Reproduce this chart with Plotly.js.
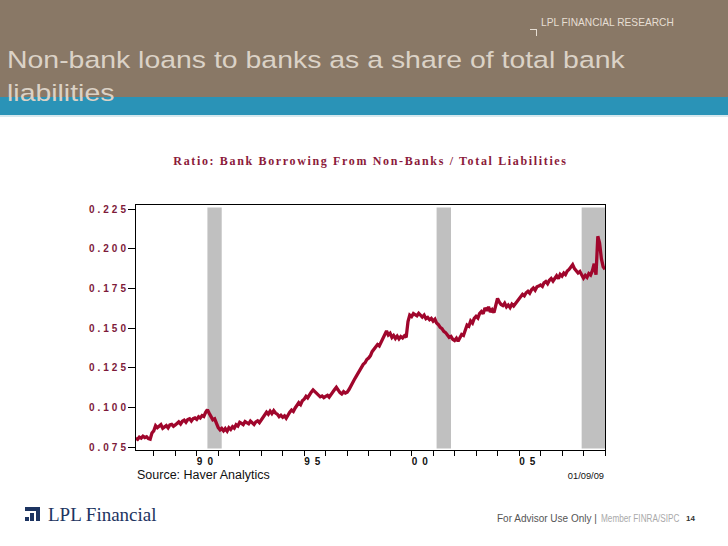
<!DOCTYPE html>
<html>
<head>
<meta charset="utf-8">
<script src="https://cdn.plot.ly/plotly-3.0.1.min.js"></script>
<style>
  html, body { margin:0; padding:0; width:728px; height:546px; overflow:hidden; background:#fff; font-family:"Liberation Sans", Arial, sans-serif; }
  #chart { position:absolute; left:0; top:0; width:728px; height:546px; z-index:1; }
  .abs { position:absolute; white-space:nowrap; }
  #hdr { left:0; top:0; width:728px; height:97px; background:#897866; z-index:2; }
  #teal { left:0; top:97px; width:728px; height:18px; background:#2a93b7; z-index:2; }
  #thin { left:0; top:115px; width:728px; height:2px; background:#d6e8ee; z-index:2; }
  #title { left:7px; top:43px; font-size:24.5px; line-height:33px; color:#dbd2c6; transform:scaleX(1.16); transform-origin:left top; z-index:3; }
  #research { left:541px; top:16px; font-size:10.5px; color:#e6ded3; transform:scaleX(0.97); transform-origin:left top; z-index:3; }
  #bracket { left:530px; top:29px; width:6px; height:6px; border-top:1.5px solid #e6ded3; border-right:1.5px solid #e6ded3; z-index:3; }
  #source { left:137px; top:468px; font-size:12.5px; color:#111; z-index:3; }
  #date { left:520px; width:84px; text-align:right; top:471px; font-size:9.3px; color:#111; z-index:3; }
  #logotext { left:48px; top:504px; font-family:"Liberation Serif","Times New Roman",serif; font-size:19px; color:#1d3461; z-index:3; }
  .lg { position:absolute; background:#1d3461; z-index:3; }
  #advisor { left:497px; top:513px; font-size:10px; color:#555; z-index:3; }
  #member { left:601px; top:513px; font-size:10px; color:#aaa; transform:scaleX(0.82); transform-origin:left top; z-index:3; }
  #page { left:686px; top:514px; font-size:8px; font-weight:bold; color:#333; z-index:3; }
  #chart .ytick text, #chart .y2tick text { letter-spacing:3px; }
  #chart .xtick text { letter-spacing:5px; }
  #chart .gtitle { letter-spacing:1.65px; }
</style>
</head>
<body>
<div id="chart"></div>
<div id="hdr" class="abs"></div>
<div id="teal" class="abs"></div>
<div id="thin" class="abs"></div>
<div id="title" class="abs">Non-bank loans to banks as a share of total bank<br>liabilities</div>
<div id="research" class="abs">LPL FINANCIAL RESEARCH</div>
<div id="bracket" class="abs"></div>
<div id="source" class="abs">Source: Haver Analytics</div>
<div id="date" class="abs">01/09/09</div>
<div class="lg" style="left:25px;top:507px;width:15px;height:4px;"></div>
<div class="lg" style="left:36px;top:507px;width:4px;height:14px;"></div>
<div class="lg" style="left:30px;top:513px;width:4px;height:8px;"></div>
<div class="lg" style="left:25px;top:517px;width:3.5px;height:4px;"></div>
<div id="logotext" class="abs">LPL Financial</div>
<div id="advisor" class="abs">For Advisor Use Only |</div>
<div id="member" class="abs">Member FINRA/SIPC</div>
<div id="page" class="abs">14</div>
<script>
// ---- Data (monthly, starting March 1987) ----
const startYear = 1987;
const startMonth = 3;
const ratio = [
  // 1987 Mar-Dec
  0.0805, 0.0798, 0.0812, 0.0806, 0.0818, 0.0809, 0.0815, 0.0803, 0.0799, 0.0838,
  // 1988
  0.0852, 0.0884, 0.0872, 0.0879, 0.0891, 0.0868, 0.0877, 0.0885, 0.0871, 0.0889, 0.0893, 0.0881,
  // 1989
  0.0889, 0.0897, 0.0908, 0.0895, 0.0912, 0.0919, 0.0906, 0.0923, 0.0928, 0.0914, 0.0929, 0.0933,
  // 1990
  0.0924, 0.0940, 0.0933, 0.0948, 0.0942, 0.0968, 0.0985, 0.0962, 0.0945, 0.0922, 0.0928, 0.0895,
  // 1991
  0.0872, 0.0858, 0.0867, 0.0852, 0.0866, 0.0850, 0.0872, 0.0861, 0.0878, 0.0869, 0.0890, 0.0882,
  // 1992
  0.0906, 0.0899, 0.0891, 0.0910, 0.0903, 0.0896, 0.0913, 0.0901, 0.0892, 0.0908, 0.0915, 0.0904,
  // 1993
  0.0920, 0.0936, 0.0953, 0.0969, 0.0957, 0.0976, 0.0961, 0.0979, 0.0964, 0.0957, 0.0941, 0.0950,
  // 1994
  0.0937, 0.0946, 0.0931, 0.0956, 0.0969, 0.0983, 0.0974, 0.0996, 0.1011, 0.1029, 0.1017, 0.1041,
  // 1995
  0.1052, 0.1069, 0.1059, 0.1083, 0.1096, 0.1110, 0.1099, 0.1089, 0.1071, 0.1066, 0.1072, 0.1061,
  // 1996
  0.1069, 0.1076, 0.1064, 0.1083, 0.1099, 0.1112, 0.1126, 0.1104, 0.1093, 0.1084, 0.1099, 0.1090,
  // 1997
  0.1096, 0.1112, 0.1134, 0.1152, 0.1174, 0.1193, 0.1214, 0.1234, 0.1254, 0.1271, 0.1281, 0.1301,
  // 1998
  0.1311, 0.1326, 0.1351, 0.1369, 0.1379, 0.1396, 0.1387, 0.1411, 0.1443, 0.1466, 0.1481, 0.1456,
  // 1999
  0.1467, 0.1441, 0.1453, 0.1434, 0.1449, 0.1431, 0.1446, 0.1437, 0.1451, 0.1441, 0.1540, 0.1581,
  // 2000
  0.1572, 0.1591, 0.1584, 0.1577, 0.1593, 0.1579, 0.1569, 0.1581, 0.1559, 0.1566, 0.1552, 0.1561,
  // 2001
  0.1544, 0.1556, 0.1531, 0.1521, 0.1504, 0.1496, 0.1479, 0.1471, 0.1454, 0.1441, 0.1447, 0.1429,
  // 2002
  0.1421, 0.1436, 0.1417, 0.1441, 0.1459, 0.1453, 0.1486, 0.1519, 0.1511, 0.1544, 0.1531, 0.1561,
  // 2003
  0.1574, 0.1563, 0.1591, 0.1604, 0.1589, 0.1626, 0.1609, 0.1633, 0.1601, 0.1616, 0.1597, 0.1641,
  // 2004
  0.1686, 0.1663, 0.1648, 0.1641, 0.1656, 0.1633, 0.1645, 0.1629, 0.1650, 0.1639, 0.1654, 0.1676,
  // 2005
  0.1691, 0.1698, 0.1712, 0.1703, 0.1722, 0.1731, 0.1719, 0.1741, 0.1752, 0.1738, 0.1760, 0.1764,
  // 2006
  0.1771, 0.1762, 0.1785, 0.1793, 0.1779, 0.1801, 0.1812, 0.1796, 0.1818, 0.1829, 0.1811, 0.1838,
  // 2007
  0.1827, 0.1846, 0.1837, 0.1859, 0.1869, 0.1886, 0.1899, 0.1874, 0.1861, 0.1847, 0.1856, 0.1837,
  // 2008
  0.1814, 0.1831, 0.1819, 0.1843, 0.1834, 0.1861, 0.1905, 0.1836, 0.2078, 0.2036, 0.1935, 0.1885,
  // 2009 Jan
  0.1870
];
const recessionStart = ["1990-07-01", "2001-03-01", "2007-12-01"];
const recessionEnd   = ["1991-03-01", "2001-11-01", "2009-01-01"];
const yTicks = [0.075, 0.100, 0.125, 0.150, 0.175, 0.200, 0.225];
const xLabelDates = ["1990-07-01", "1995-07-01", "2000-07-01", "2005-07-01"];
const xLabelText = ["90", "95", "00", "05"];
const chartTitle = "Ratio: Bank Borrowing From Non-Banks / Total Liabilities";

// ---- Build dates ----
function pad(n){ return (n < 10 ? "0" : "") + n; }
const dates = ratio.map(function(_, i){
  const m = startMonth - 1 + i;
  const y = startYear + Math.floor(m / 12);
  return y + "-" + pad((m % 12) + 1) + "-01";
});

const xRange = ["1987-03-05", "2009-01-01"];
const yRange = [0.07311, 0.22752];
const tickColor = "#7d1a3a";
const tickFont = { family: "Liberation Sans, Arial, sans-serif", size: 10, color: tickColor, weight: "bold" };

const shapes = recessionStart.map(function(s, i){
  return { type: "rect", xref: "x", yref: "paper", x0: s, x1: recessionEnd[i], y0: 0.006, y1: 0.99,
           fillcolor: "#c0c0c0", line: { width: 0 }, layer: "below" };
});

const trace = {
  type: "scatter", mode: "lines", x: dates, y: ratio,
  line: { color: "#a0062c", width: 3.3 }, hoverinfo: "skip", showlegend: false
};

const layout = {
  width: 728, height: 546,
  margin: { l: 136, r: 123, t: 205, b: 96 },
  paper_bgcolor: "rgba(0,0,0,0)", plot_bgcolor: "#ffffff",
  showlegend: false,
  title: { text: chartTitle, x: 0.5, xref: "paper", y: 1 - 161/546, yref: "container", yanchor: "middle",
           font: { family: "Liberation Serif, Times New Roman, serif", size: 12, color: "#8b1a3a", weight: "bold" } },
  xaxis: {
    type: "date", range: xRange, showgrid: false, zeroline: false,
    showline: true, linecolor: "#000", linewidth: 1, mirror: true,
    tickmode: "array", tickvals: xLabelDates, ticktext: xLabelText,
    ticks: "outside", ticklen: 2, tickcolor: "rgba(0,0,0,0)",
    tickfont: { family: "Liberation Sans, Arial, sans-serif", size: 10, color: "#111", weight: "bold" },
    minor: { tickmode: "linear", tick0: "1988-01-01", dtick: "M12", ticks: "outside", ticklen: 5, tickcolor: "#000", tickwidth: 1, showgrid: false }
  },
  yaxis: {
    range: yRange, showgrid: false, zeroline: false,
    showline: true, linecolor: "#000", linewidth: 1, mirror: true,
    tickmode: "array", tickvals: yTicks, tickformat: ".3f",
    ticks: "outside", ticklen: 7, tickcolor: "#000", tickfont: tickFont, ticklabelstandoff: -3
  },
  yaxis2: {
    overlaying: "y", side: "right", anchor: "x", range: yRange, showgrid: false, zeroline: false,
    showline: false, tickmode: "array", tickvals: yTicks, tickformat: ".3f",
    ticks: "outside", ticklen: 5, tickcolor: "#000", tickfont: tickFont, ticklabelstandoff: -2
  },
  shapes: shapes
};

Plotly.newPlot("chart", [trace], layout, { displayModeBar: false, staticPlot: true });
</script>
</body>
</html>
